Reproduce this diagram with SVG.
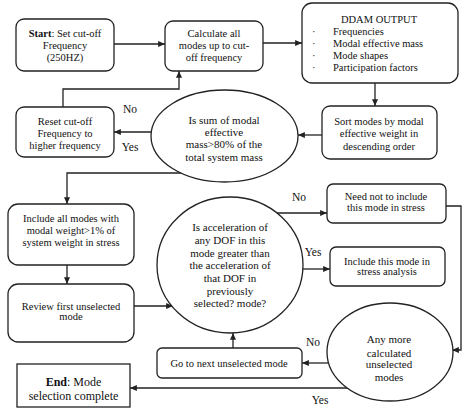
<svg xmlns="http://www.w3.org/2000/svg" width="474" height="416" viewBox="0 0 474 416" font-family="'Liberation Serif', 'DejaVu Serif', serif">
<style>
.b{fill:#fff;stroke:#222;stroke-width:1.3}
.c{fill:none;stroke:#222;stroke-width:1.3}
text{font-family:'Liberation Serif','DejaVu Serif',serif;fill:#111;font-size:10.5px;text-anchor:middle}
.e{font-size:11px}
.l{font-size:11.5px}
.s{text-anchor:start}
</style>
<defs>
<marker id="a" viewBox="0 0 8 7" refX="8" refY="3.5" markerWidth="7" markerHeight="6" markerUnits="userSpaceOnUse" orient="auto">
<path d="M0,0 L8,3.5 L0,7 z" fill="#222"/>
</marker>
</defs>
<rect width="474" height="416" fill="#fff"/>
<g id="connectors">
<line class="c" x1="114" y1="44" x2="165" y2="44" marker-end="url(#a)"/>
<line class="c" x1="263" y1="43" x2="302" y2="43" marker-end="url(#a)"/>
<line class="c" x1="375" y1="83" x2="375" y2="106" marker-end="url(#a)"/>
<line class="c" x1="322" y1="135" x2="298" y2="135" marker-end="url(#a)"/>
<line class="c" x1="151" y1="132" x2="114" y2="132" marker-end="url(#a)"/>
<polyline class="c" points="63,107 63,89 179,89 179,71" marker-end="url(#a)"/>
<polyline class="c" points="181,173 67,173 67,204" marker-end="url(#a)"/>
<line class="c" x1="67" y1="265" x2="67" y2="284" marker-end="url(#a)"/>
<line class="c" x1="134" y1="306" x2="173" y2="306" marker-end="url(#a)"/>
<line class="c" x1="277" y1="213" x2="327" y2="213" marker-end="url(#a)"/>
<line class="c" x1="303" y1="269" x2="330" y2="269" marker-end="url(#a)"/>
<polyline class="c" points="446,206 461,206 461,350 452,350" marker-end="url(#a)"/>
<line class="c" x1="328" y1="363" x2="302" y2="363" marker-end="url(#a)"/>
<line class="c" x1="233" y1="348" x2="233" y2="333" marker-end="url(#a)"/>
<line class="c" x1="350" y1="388" x2="130" y2="388" marker-end="url(#a)"/>
<text class="l" x="130" y="113">No</text>
<text class="l" x="130" y="151">Yes</text>
<text class="l" x="299" y="201">No</text>
<text class="l" x="313" y="256">Yes</text>
<text class="l" x="313" y="346">No</text>
<text class="l" x="320" y="404">Yes</text>
</g>
<g id="start">
<rect class="b" x="16" y="19" width="98" height="52" rx="8"/>
<text x="65" y="37"><tspan font-weight="bold">Start</tspan>: Set cut-off</text>
<text x="65" y="49">Frequency</text>
<text x="65" y="61">(250HZ)</text>
</g>
<g id="calc">
<rect class="b" x="165" y="21" width="98" height="50" rx="8"/>
<text x="214" y="37">Calculate all</text>
<text x="214" y="49">modes up to cut-</text>
<text x="214" y="61">off frequency</text>
</g>
<g id="ddam">
<rect class="b" x="302" y="3" width="156" height="80" rx="10"/>
<text x="379" y="23">DDAM OUTPUT</text>
<text class="s" x="312" y="35">·</text>
<text class="s" x="312" y="47">·</text>
<text class="s" x="312" y="59">·</text>
<text class="s" x="312" y="71">·</text>
<text class="s" x="333" y="35">Frequencies</text>
<text class="s" x="333" y="47">Modal effective mass</text>
<text class="s" x="333" y="59">Mode shapes</text>
<text class="s" x="333" y="71">Participation factors</text>
</g>
<g id="sort">
<rect class="b" x="322" y="106" width="115" height="53" rx="8"/>
<text x="379" y="125">Sort modes by modal</text>
<text x="379" y="137">effective weight in</text>
<text x="379" y="150">descending order</text>
</g>
<g id="sum">
<ellipse class="b" cx="224.5" cy="136" rx="73.5" ry="46"/>
<text class="e" x="224" y="124">Is sum of modal</text>
<text class="e" x="224" y="136">effective</text>
<text class="e" x="224" y="148">mass&gt;80% of the</text>
<text class="e" x="224" y="161">total system mass</text>
</g>
<g id="reset">
<rect class="b" x="16" y="107" width="98" height="50" rx="8"/>
<text x="65" y="125">Reset cut-off</text>
<text x="65" y="137">Frequency to</text>
<text x="65" y="149">higher frequency</text>
</g>
<g id="includeall">
<rect class="b" x="8" y="204" width="126" height="61" rx="10"/>
<text x="71" y="222">Include all modes with</text>
<text x="71" y="234">modal weight&gt;1% of</text>
<text x="71" y="246">system weight in stress</text>
</g>
<g id="review">
<rect class="b" x="8" y="284" width="126" height="58" rx="10"/>
<text x="71" y="310">Review first unselected</text>
<text x="71" y="320">mode</text>
</g>
<g id="accel">
<ellipse class="b" cx="230" cy="265" rx="73" ry="68"/>
<text class="e" x="230" y="231">Is acceleration of</text>
<text class="e" x="230" y="244">any DOF in this</text>
<text class="e" x="230" y="257">mode greater than</text>
<text class="e" x="230" y="269">the acceleration of</text>
<text class="e" x="230" y="282">that DOF in</text>
<text class="e" x="230" y="295">previously</text>
<text class="e" x="230" y="307">selected? mode?</text>
</g>
<g id="neednot">
<rect class="b" x="327" y="184" width="119" height="39" rx="6"/>
<text x="386" y="200">Need not to include</text>
<text x="386" y="211">this mode in stress</text>
</g>
<g id="includethis">
<rect class="b" x="330" y="247" width="115" height="39" rx="6"/>
<text x="387" y="265">Include this mode in</text>
<text x="387" y="275">stress analysis</text>
</g>
<g id="anymore">
<ellipse class="b" cx="390" cy="352" rx="63" ry="49"/>
<text class="e" x="389" y="343">Any more</text>
<text class="e" x="389" y="357">calculated</text>
<text class="e" x="389" y="368">unselected</text>
<text class="e" x="389" y="381">modes</text>
</g>
<g id="gonext">
<rect class="b" x="157" y="348" width="145" height="30" rx="5"/>
<text x="229" y="367">Go to next unselected mode</text>
</g>
<g id="end">
<rect class="b" x="17" y="364" width="113" height="43"/>
<text x="73.5" y="386" style="font-size:12px"><tspan font-weight="bold">End</tspan>: Mode</text>
<text x="73.5" y="400" style="font-size:12px">selection complete</text>
</g>
</svg>
